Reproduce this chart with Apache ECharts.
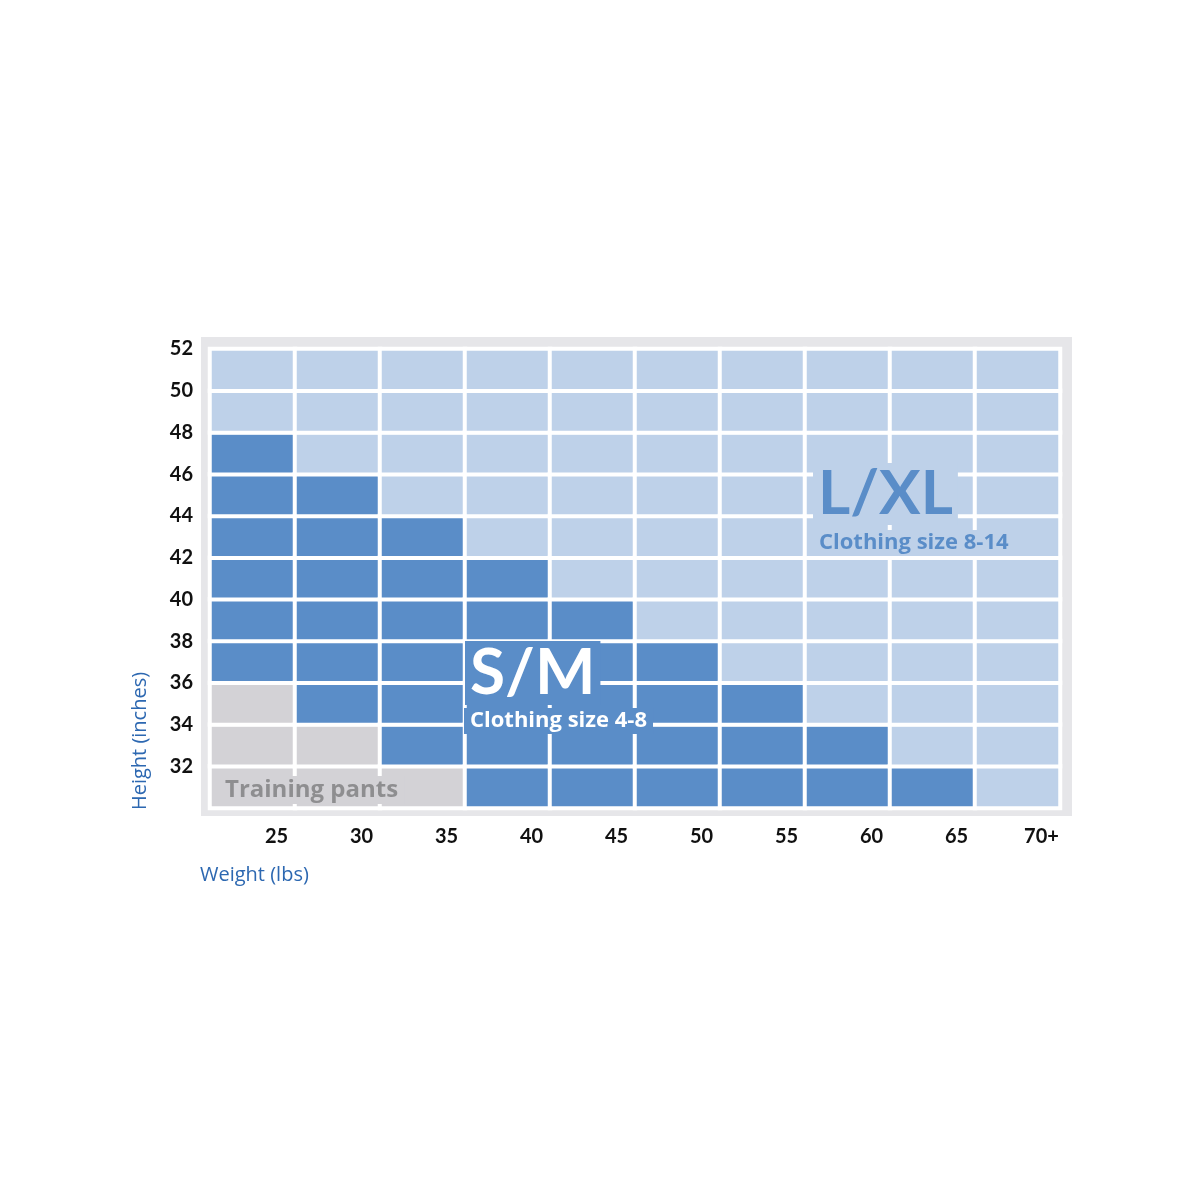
<!DOCTYPE html>
<html><head><meta charset="utf-8">
<script src="https://cdn.jsdelivr.net/npm/echarts@6/dist/echarts.min.js"></script>
<style>html,body{margin:0;padding:0;background:#fff}#c{width:1200px;height:1200px}</style>
</head><body><div id="c"></div>
<script>
// Weight columns (lbs) and height rows (inches)
const weights = ['25','30','35','40','45','50','55','60','65','70+'];
const heights = ['32','34','36','38','40','42','44','46','48','50','52'];
// Height tick labels (each row's label sits at the row's upper edge)
const heightTicks = [32, 34, 36, 38, 40, 42, 44, 46, 48, 50, 52];
// Highest height (inches) still in "Training pants" for each weight column (null = none)
const trainingMaxHeight = [36, 34, 32, null, null, null, null, null, null, null];
// Highest height (inches) still in size S/M for each weight column (null = none)
const smMaxHeight = [48, 46, 44, 42, 40, 38, 36, 34, 32, null];
const zoneNames = ['Training pants', 'S/M', 'L/XL'];
const zoneColors = ['#d3d2d6', '#5a8dc8', '#bed1e9'];

const data = [];
weights.forEach((w, i) => {
  heights.forEach((h, j) => {
    const hv = Number(h);
    let zone = 2;
    if (trainingMaxHeight[i] !== null && hv <= trainingMaxHeight[i]) zone = 0;
    else if (smMaxHeight[i] !== null && hv <= smMaxHeight[i]) zone = 1;
    data.push([i, j, zone]);
  });
});

const chart = echarts.init(document.getElementById('c'), null, {renderer: 'canvas'});
const numFont = 'Lato';
chart.setOption({
  backgroundColor: '#fff',
  animation: false,
  grid: {left: 210, top: 349, width: 850, height: 459},
  xAxis: {
    type: 'category', data: weights,
    axisLine: {show: false}, axisTick: {show: false}, splitLine: {show: false},
    axisLabel: {color: '#111', fontFamily: numFont, fontWeight: 'bold', fontSize: 20,
      margin: 19, padding: [0, 0, 0, 48]}
  },
  yAxis: [{
    type: 'category', data: heights, position: 'left',
    axisLine: {show: false}, axisTick: {show: false}, splitLine: {show: false},
    axisLabel: {show: false}
  }, {
    type: 'value', position: 'left', min: 30, max: 52, interval: 2,
    axisLine: {show: false}, axisTick: {show: false}, splitLine: {show: false},
    axisLabel: {color: '#111', fontFamily: numFont, fontWeight: 'bold', fontSize: 20,
      margin: 17, showMinLabel: false, verticalAlign: 'middle',
      formatter: v => heightTicks.includes(v) ? String(v) : ''}
  }],
  visualMap: {
    show: false, type: 'piecewise', dimension: 2, seriesIndex: 0,
    pieces: zoneNames.map((n, k) => ({value: k, color: zoneColors[k], label: n}))
  },
  series: [{
    type: 'heatmap', data: data, xAxisIndex: 0, yAxisIndex: 0,
    itemStyle: {borderColor: '#ffffff', borderWidth: 4},
    emphasis: {disabled: true},
    z: 2
  }],
  graphic: [
    {type: 'rect', z: -10, silent: true, shape: {x: 201, y: 337, width: 871, height: 479},
      style: {fill: '#e6e6e9'}},
    {type: 'text', z: 100, style: {text: 'Training pants', x: 219, y: 790, verticalAlign: 'middle',
      font: 'bold 24px "Open Sans"', fill: '#8e8e90', backgroundColor: zoneColors[0], padding: [2, 6]}},
    {type: 'text', z: 100, style: {text: 'S/M', x: 465, y: 673, verticalAlign: 'middle',
      font: 'bold 64px Lato', fill: '#ffffff', backgroundColor: zoneColors[1], padding: [0, 5]}},
    {type: 'text', z: 100, style: {text: 'Clothing size 4-8', x: 464, y: 721, verticalAlign: 'middle',
      font: 'bold 22px "Open Sans"', fill: '#ffffff', backgroundColor: zoneColors[1], padding: [2, 6]}},
    {type: 'text', z: 100, style: {text: 'L/XL', x: 813, y: 494, verticalAlign: 'middle',
      font: 'bold 62px Lato', fill: zoneColors[1], backgroundColor: zoneColors[2], padding: [0, 5]}},
    {type: 'text', z: 100, style: {text: 'Clothing size 8-14', x: 813, y: 543, verticalAlign: 'middle',
      font: 'bold 22px "Open Sans"', fill: zoneColors[1], backgroundColor: zoneColors[2], padding: [2, 6]}},
    {type: 'text', z: 100, x: 140, y: 741, rotation: Math.PI / 2, style: {text: 'Height (inches)',
      align: 'center', verticalAlign: 'middle', font: '20px "Open Sans"', fill: '#2d68b1'}},
    {type: 'text', z: 100, style: {text: 'Weight (lbs)', x: 200, y: 875, verticalAlign: 'middle',
      font: '20px "Open Sans"', fill: '#2d68b1'}}
  ]
});
</script>
</body></html>
